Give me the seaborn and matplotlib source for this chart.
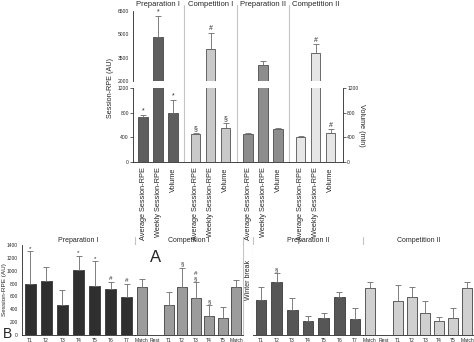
import numpy as np
import pandas as pd
import matplotlib
matplotlib.use("Agg")
import matplotlib.pyplot as plt
import matplotlib.transforms as mtransforms
import seaborn as sns

# ---------------- data ----------------
top_phases = ["Preparation I", "Competition I", "Preparation II", "Competition II"]
top_metrics = ["Average Session-RPE", "Weekly Session-RPE", "Volume"]
avg_rpe = [730, 455, 450, 410]
avg_rpe_err = [30, 10, 20, 10]
weekly_rpe = [4850, 4080, 3000, 3780]
weekly_rpe_err = [1300, 1000, 290, 580]
volume = [800, 550, 540, 475]
volume_err = [205, 80, 15, 55]
avg_marks = ["*", "§", "", ""]
weekly_marks = ["*", "#", "", "#"]
volume_marks = ["*", "§", "", "#"]

prep1_labels = ["T1", "T2", "T3", "T4", "T5", "T6", "T7"]
prep1_vals = [800, 845, 460, 1010, 760, 710, 590]
prep1_err = [500, 220, 235, 225, 385, 120, 210]
prep1_marks = ["*", "", "", "*", "*", "#", "#"]

comp1_labels = ["Match", "Rest", "T1", "T2", "T3", "T4", "T5", "Match"]
comp1_vals = [740, 0, 460, 745, 580, 300, 265, 740]
comp1_err = [130, 0, 210, 305, 250, 170, 165, 120]
comp1_marks = ["", "", "", "§", "#\n§", "§", "", ""]

prep2_labels = ["T1", "T2", "T3", "T4", "T5", "T6", "T7"]
prep2_vals = [545, 820, 395, 220, 270, 595, 255]
prep2_err = [205, 140, 175, 75, 80, 70, 170]
prep2_marks = ["", "§", "", "", "", "", ""]

comp2_labels = ["Match", "Rest", "T1", "T2", "T3", "T4", "T5", "Match"]
comp2_vals = [735, 0, 530, 590, 340, 220, 260, 725]
comp2_err = [85, 0, 245, 150, 185, 60, 155, 95]
comp2_marks = ["", "", "", "", "", "", "", ""]

# ---------------- style ----------------
sns.set_style("white")
plt.rcParams["font.family"] = ["Liberation Sans", "DejaVu Sans"]
W, H = 474, 342
fig = plt.figure(figsize=(W / 100, H / 100), dpi=100)


def px_rect(x0, y0, x1, y1):
    return [x0 / W, 1 - y1 / H, (x1 - x0) / W, (y1 - y0) / H]


SEP_COLOR = "#c4c4c4"
EDGE = "#333333"
ERRC = "#6a6a6a"

# ---------------- panel A (broken axis) ----------------
ax_hi = fig.add_axes(px_rect(133, 11, 343, 81))
ax_lo = fig.add_axes(px_rect(133, 88, 343, 162))

rows = []
for gi, ph in enumerate(top_phases):
    vals = [avg_rpe[gi], weekly_rpe[gi], volume[gi]]
    errs = [avg_rpe_err[gi], weekly_rpe_err[gi], volume_err[gi]]
    marks = [avg_marks[gi], weekly_marks[gi], volume_marks[gi]]
    for mi, met in enumerate(top_metrics):
        rows.append(dict(pos=gi * 3.5 + mi, value=vals[mi], err=errs[mi],
                         mark=marks[mi], phase=ph, metric=met))
df_top = pd.DataFrame(rows)
top_colors = ["#5e5e5e", "#c9c9c9", "#8d8d8d", "#e6e6e6"]

for ax in (ax_hi, ax_lo):
    sns.barplot(data=df_top, x="pos", y="value", hue="phase", hue_order=top_phases,
                palette=top_colors, native_scale=True, dodge=False, width=0.65,
                edgecolor=EDGE, linewidth=0.5, saturation=1, errorbar=None,
                legend=False, ax=ax)
    ax.errorbar(df_top["pos"], df_top["value"],
                yerr=[np.zeros(len(df_top)), df_top["err"]],
                fmt="none", ecolor=ERRC, elinewidth=0.6, capsize=2, capthick=0.6)
    ax.set_xlim(-0.67, 13.33)
    ax.set_xlabel("")
    ax.set_ylabel("")
    for s in ["top", "right"]:
        ax.spines[s].set_visible(False)
    ax.spines["left"].set_linewidth(0.6)
    ax.spines["bottom"].set_linewidth(0.6)
    ax.tick_params(axis="y", length=2, width=0.5, labelsize=3.6, pad=1)

ax_hi.set_ylim(2000, 6500)
ax_hi.set_yticks([2000, 3500, 5000, 6500])
ax_hi.spines["bottom"].set_visible(False)
ax_hi.set_xticks([])

ax_lo.set_ylim(0, 1200)
ax_lo.set_yticks([0, 400, 800, 1200])
ax_lo.set_xticks(df_top["pos"])
ax_lo.set_xticklabels(df_top["metric"], rotation=90, fontsize=5.3)
ax_lo.tick_params(axis="x", length=2, width=0.5, pad=2)

ax_r = ax_lo.twinx()
ax_r.set_ylim(0, 1200)
ax_r.set_yticks([0, 400, 800, 1200])
for s in ["top", "left", "bottom"]:
    ax_r.spines[s].set_visible(False)
ax_r.spines["right"].set_linewidth(0.6)
ax_r.tick_params(axis="y", length=2, width=0.5, labelsize=3.6, pad=1)
ax_r.set_ylabel("Volume (min)", rotation=270, fontsize=5.2, labelpad=5)

for _, r in df_top.iterrows():
    if not r["mark"]:
        continue
    ytop = r["value"] + r["err"]
    ax = ax_hi if ytop > 1200 else ax_lo
    ax.annotate(r["mark"], (r["pos"], ytop), xytext=(0, 0.5), textcoords="offset points",
                ha="center", va="bottom", fontsize=5, annotation_clip=False)

# separators + group titles
blend_lo = mtransforms.blended_transform_factory(ax_lo.transData, ax_lo.transAxes)
for gi in range(1, len(top_phases)):
    xs = gi * 3.5 - 0.75
    ax_lo.plot([xs, xs], [0, 2.12], transform=blend_lo, color=SEP_COLOR, lw=0.8,
               clip_on=False, zorder=0)
blend_hi = mtransforms.blended_transform_factory(ax_hi.transData, ax_hi.transAxes)
for gi, ph in enumerate(top_phases):
    ax_hi.text(gi * 3.5 + 1, 1.1, ph, transform=blend_hi, ha="center", va="center",
               fontsize=5.5)

fig.text(111 / W, 1 - 88 / H, "Session-RPE (AU)", rotation=90, ha="center",
         va="center", fontsize=5.2)
fig.text(156 / W, 1 - 257 / H, "A", fontsize=12, ha="center", va="center")

# ---------------- panel B ----------------
panels = [
    ("Preparation I", prep1_labels, prep1_vals, prep1_err, prep1_marks, "#2f2f2f", (22, 135), 0.68),
    ("Competition I", comp1_labels, comp1_vals, comp1_err, comp1_marks, "#9c9c9c", (135, 243), 0.72),
    ("Preparation II", prep2_labels, prep2_vals, prep2_err, prep2_marks, "#565656", (253, 363), 0.68),
    ("Competition II", comp2_labels, comp2_vals, comp2_err, comp2_marks, "#d0d0d0", (363, 474), 0.72),
]
for i, (title, labels, vals, errs, marks, col, (x0, x1), bw) in enumerate(panels):
    ax = fig.add_axes(px_rect(x0, 245, x1, 335))
    df = pd.DataFrame({"slot": np.arange(len(labels)), "value": vals, "err": errs})
    sns.barplot(data=df, x="slot", y="value", color=col, width=bw, saturation=1,
                edgecolor="#222222", linewidth=0.5, errorbar=None, ax=ax)
    m = df["value"] > 0
    ax.errorbar(df.loc[m, "slot"], df.loc[m, "value"],
                yerr=[np.zeros(m.sum()), df.loc[m, "err"]],
                fmt="none", ecolor=ERRC, elinewidth=0.6, capsize=2, capthick=0.6)
    for j, mk in enumerate(marks):
        if mk:
            ax.annotate(mk, (j, vals[j] + errs[j]), xytext=(0, 0.5),
                        textcoords="offset points", ha="center", va="bottom",
                        fontsize=4.5, linespacing=0.9, annotation_clip=False)
    ax.set_xlim(-0.5, len(labels) - 0.5)
    ax.set_ylim(0, 1400)
    ax.set_xticks(range(len(labels)))
    ax.set_xticklabels(labels, fontsize=3.6)
    ax.tick_params(axis="x", length=1.5, width=0.5, pad=1)
    ax.set_xlabel("")
    ax.set_ylabel("")
    ax.spines["top"].set_visible(False)
    ax.spines["right"].set_visible(False)
    ax.spines["bottom"].set_linewidth(0.6)
    if i == 0:
        ax.set_yticks(range(0, 1401, 200))
        ax.tick_params(axis="y", length=2, width=0.5, labelsize=3.5, pad=1)
        ax.spines["left"].set_linewidth(0.6)
    else:
        ax.set_yticks([])
        ax.spines["left"].set_visible(False)
    ax.text(0.5, 1.01, title, transform=ax.transAxes, ha="center", va="bottom",
            fontsize=5)

for xs in [135, 243, 253, 363]:
    fig.add_artist(plt.Line2D([xs / W, xs / W], [1 - 335 / H, 1 - 237 / H],
                              color=SEP_COLOR, lw=0.8, zorder=0))
fig.text(248 / W, 1 - 280 / H, "Winter break", rotation=90, ha="center", va="center",
         fontsize=5)
fig.text(5 / W, 1 - 290 / H, "Session-RPE (AU)", rotation=90, ha="center",
         va="center", fontsize=4.6)
fig.text(7 / W, 1 - 334 / H, "B", fontsize=10, ha="center", va="center")

fig.savefig("out.png", dpi=100)
